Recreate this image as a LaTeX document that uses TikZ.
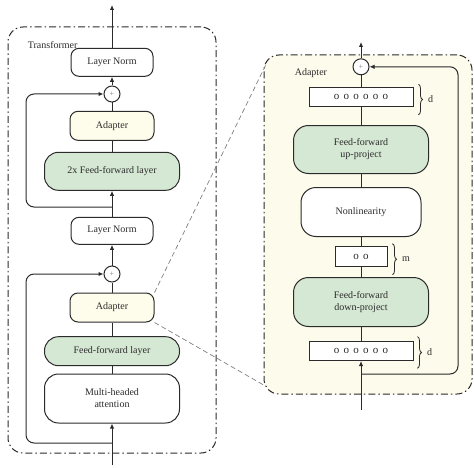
\documentclass[tikz,border=0pt]{standalone}
\usepackage{fontspec}
\setmainfont{Liberation Serif}
\usepackage{tikz}
\usetikzlibrary{shapes, arrows.meta, positioning, decorations.pathreplacing}
\definecolor{ffgreen}{HTML}{D5E8D4}
\definecolor{adcream}{HTML}{FEFCEA}
\definecolor{panelcream}{HTML}{FCFBEC}
\definecolor{linegray}{HTML}{2B2B2B}
\tikzstyle{block} = [draw=linegray, fill=white, rectangle, rounded corners=8pt, inner sep=0pt, minimum height=28pt, minimum width=82pt]
\tikzstyle{ffblock} = [block, fill=ffgreen, rounded corners=14pt, minimum width=135pt]
\tikzstyle{adblock} = [block, fill=adcream, minimum width=84pt, minimum height=29pt]
\tikzstyle{units} = [draw=linegray, fill=white, rectangle, inner sep=0pt, minimum height=19pt, minimum width=104pt, font=\fontsize{11}{13}\selectfont]
\tikzstyle{sum} = [draw=linegray, fill=white, circle, inner sep=0pt, minimum size=16pt, text=gray, font=\footnotesize]
\tikzstyle{panel} = [draw=linegray, rounded corners=15pt, dash pattern=on 7pt off 3pt on 1.5pt off 3pt, inner sep=0pt]
\tikzstyle{zoomline} = [draw=gray, dash pattern=on 5pt off 3pt, line width=0.7pt]
\tikzstyle{brace} = [decorate, decoration={brace, amplitude=4pt}, line width=0.8pt]
\newcommand{\neurons}[1]{\foreach \i in {1,...,#1}{\ifnum\i>1 \hspace{4.3pt}\fi o}}

\begin{document}
\begin{tikzpicture}[auto, >={Latex[length=5pt,width=4.5pt]}, x=1pt, y=1pt, line width=1pt, color=linegray]
  \useasboundingbox (0,0) rectangle (474,467);

  % panels
  \node[panel, minimum width=208pt, minimum height=426pt] (trans) at (112,227) {};
  \node[panel, fill=panelcream, minimum width=208pt, minimum height=339pt] (adapt) at (368,242.5) {};
  \node[anchor=west] (translabel) at (24,422) {Transformer};
  \node[anchor=west] (adaptlabel) at (291,393.7) {Adapter};

  % transformer layer
  \node[ffblock, fill=white, minimum height=49pt, align=center] (MHA) at (112,68.5) {Multi-headed\\attention};
  \node[ffblock, minimum height=29pt, above=7.3pt of MHA] (FF) {Feed-forward layer};
  \node[adblock, above=13.7pt of FF] (Ad2) {Adapter};
  \node[sum, above=10pt of Ad2] (plus2) {+};
  \node[block, minimum height=27pt, above=20.7pt of plus2] (LN2) {Layer Norm};
  \node[ffblock, minimum height=38pt, above=26pt of LN2] (FF2) {2x Feed-forward layer};
  \node[adblock, above=11pt of FF2] (Ad1) {Adapter};
  \node[sum, above=8.3pt of Ad1] (plus1) {+};
  \node[block, above=8.7pt of plus1] (LN1) {Layer Norm};

  \coordinate (tout) at (112,462);
  \coordinate (tin) at (112,2);
  \coordinate (tskipA) at (112,24);
  \coordinate (tskipB) at (112,260);

  \draw[->] (LN1) -- (tout);
  \draw[->] (plus1) -- (LN1);
  \draw (Ad1) -- (plus1);
  \draw (FF2) -- (Ad1);
  \draw[->] (LN2) -- (FF2);
  \draw[->] (plus2) -- (LN2);
  \draw (Ad2) -- (plus2);
  \draw (FF) -- (Ad2);
  \draw (MHA) -- (FF);
  \draw[->] (tin) -- (MHA);
  \draw[->, rounded corners=8pt] (tskipB) -- ++(-86,0) |- (plus1);
  \draw[->, rounded corners=8pt] (tskipA) -- ++(-86,0) |- (plus2);

  % adapter
  \node[units] (dbot) at (361,116) {\neurons{6}};
  \node[ffblock, minimum height=49pt, rounded corners=15pt, align=center, above=14pt of dbot] (down) {Feed-forward\\down-project};
  \node[units, minimum width=52pt, minimum height=20pt, above=9.7pt of down] (mid) {\neurons{2}};
  \node[block, minimum width=120pt, minimum height=49pt, rounded corners=15pt, above=9.3pt of mid] (nonlin) {Nonlinearity};
  \node[ffblock, minimum height=48pt, rounded corners=15pt, align=center, above=13pt of nonlin] (up) {Feed-forward\\up-project};
  \node[units, above=17.7pt of up] (dtop) {\neurons{6}};
  \node[sum, above=12pt of dtop] (aplus) {+};

  \coordinate (aout) at (361,425);
  \coordinate (ain) at (361,57);
  \coordinate (askip) at (361,93);

  \draw[->] (aplus) -- (aout);
  \draw (dtop) -- (aplus);
  \draw (up) -- (dtop);
  \draw (nonlin) -- (up);
  \draw (mid) -- (nonlin);
  \draw (down) -- (mid);
  \draw (dbot) -- (down);
  \draw[->] (ain) -- (dbot);
  \draw[->, rounded corners=8pt] (askip) -- ++(97,0) |- (aplus);

  \draw[brace] ([xshift=5pt,yshift=3pt]dtop.north east) -- ([xshift=5pt,yshift=-7.5pt]dtop.south east) node[midway, right=6pt] (dtoplabel) {d};
  \draw[brace] ([xshift=5pt,yshift=2.6pt]mid.north east) -- ([xshift=5pt,yshift=-7.4pt]mid.south east) node[midway, right=6pt] (midlabel) {m};
  \draw[brace] ([xshift=4pt,yshift=4.4pt]dbot.north east) -- ([xshift=4pt,yshift=-7.3pt]dbot.south east) node[midway, right=6pt] (dbotlabel) {d};

  % zoom lines
  \draw[zoomline] (Ad2.north east) -- ([xshift=2pt,yshift=-11pt]adapt.north west);
  \draw[zoomline] (Ad2.south east) -- ([xshift=1pt,yshift=9pt]adapt.south west);
\end{tikzpicture}
\end{document}
